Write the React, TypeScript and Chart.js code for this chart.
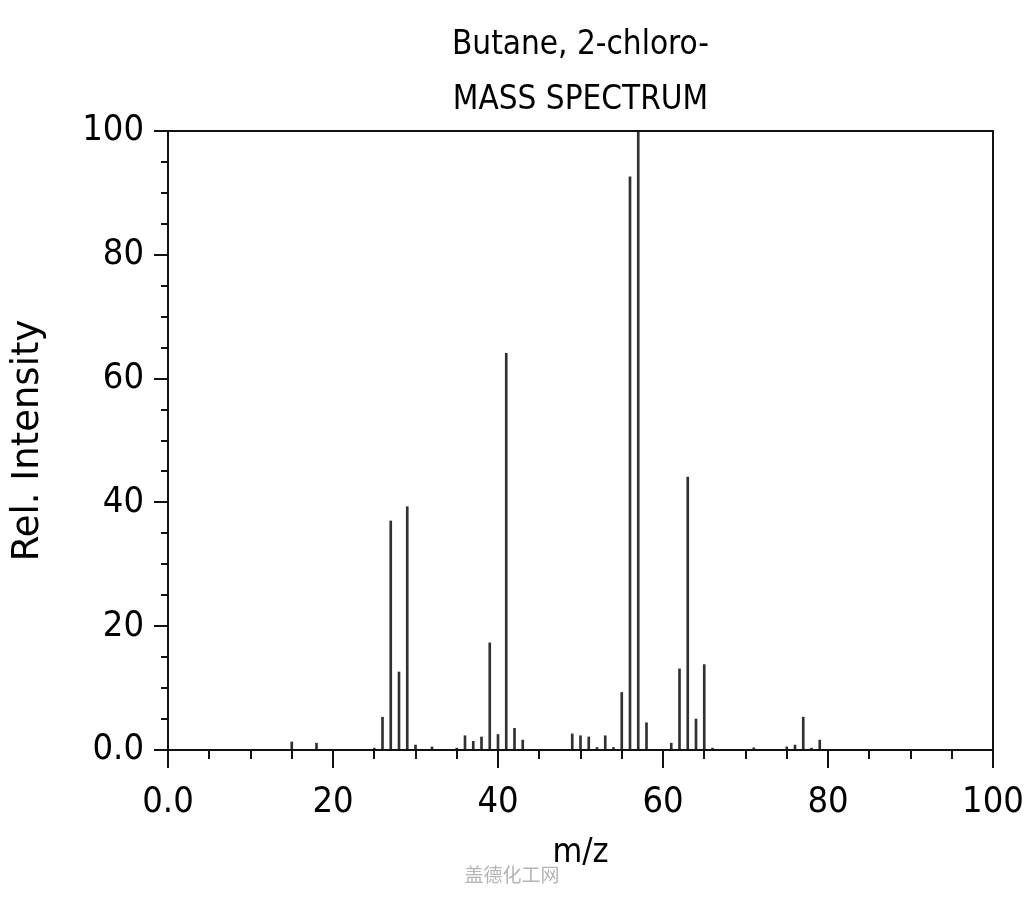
import React, { useEffect, useRef } from 'react';
import { Chart, registerables } from 'chart.js';

Chart.register(...registerables);

const TITLE_LINES = ['Butane, 2-chloro-', 'MASS SPECTRUM'];
const X_AXIS_TITLE = 'm/z';
const Y_AXIS_TITLE = 'Rel. Intensity';
const WATERMARK = '盖德化工网';

const MZ = [15, 18, 25, 26, 27, 28, 29, 30, 32, 35, 36, 37, 38, 39, 40, 41, 42, 43, 49, 50, 51, 52, 53, 54, 55, 56, 57, 58, 61, 62, 63, 64, 65, 66, 71, 75, 76, 77, 78, 79];
const INTENSITY = [1.3, 1.1, 0.3, 5.3, 37.0, 12.6, 39.3, 0.8, 0.5, 0.3, 2.3, 1.4, 2.1, 17.3, 2.5, 64.1, 3.5, 1.6, 2.6, 2.3, 2.1, 0.4, 2.3, 0.4, 9.3, 92.6, 100, 4.4, 1.1, 13.1, 44.1, 5.0, 13.8, 0.3, 0.35, 0.5, 0.8, 5.3, 0.3, 1.6];

const X_MIN = 0;
const X_MAX = 100;
const Y_MIN = 0;
const Y_MAX = 100;
const MAJOR_STEP = 20;
const MINOR_STEP = 5;

const COND = '"DejaVu Sans Condensed", "DejaVu Sans", sans-serif';
const NORMAL = '"DejaVu Sans", sans-serif';

const fmt = (v: number) => (v === 0 ? '0.0' : String(v));

const framePlugin = {
  id: 'frameTicks',
  afterDraw(chart: any) {
    const { ctx, chartArea } = chart;
    const { left, right, top, bottom } = chartArea;
    const xs = chart.scales.x;
    const ys = chart.scales.y;
    ctx.save();
    ctx.strokeStyle = '#111';
    ctx.lineWidth = 2;
    ctx.strokeRect(left, top, right - left, bottom - top);
    ctx.beginPath();
    for (let v = X_MIN; v <= X_MAX; v += MINOR_STEP) {
      const px = Math.round(xs.getPixelForValue(v));
      const len = v % MAJOR_STEP === 0 ? 18 : 9;
      ctx.moveTo(px, bottom);
      ctx.lineTo(px, bottom + len);
    }
    for (let v = Y_MIN; v <= Y_MAX; v += MINOR_STEP) {
      const py = Math.round(ys.getPixelForValue(v));
      const len = v % MAJOR_STEP === 0 ? 14 : 7;
      ctx.moveTo(left, py);
      ctx.lineTo(left - len, py);
    }
    ctx.stroke();
    ctx.fillStyle = '#b4b4b4';
    ctx.font = '19px "Noto Sans CJK SC", sans-serif';
    ctx.textAlign = 'center';
    ctx.textBaseline = 'middle';
    ctx.fillText(WATERMARK, 512, 875);
    ctx.restore();
  },
};

export default function App() {
  const ref = useRef<HTMLCanvasElement | null>(null);
  useEffect(() => {
    document.body.style.margin = '0';
    const canvas = ref.current;
    if (!canvas) return;
    const chart = new Chart(canvas, {
      type: 'bar',
      data: {
        datasets: [
          {
            data: MZ.map((m, i) => ({ x: m, y: INTENSITY[i] })),
            backgroundColor: '#303030',
            borderWidth: 0,
            barThickness: 2,
          },
        ],
      },
      options: {
        responsive: false,
        animation: false,
        devicePixelRatio: 1,
        layout: { padding: { left: 0, right: 31, top: 0, bottom: 0 } },
        plugins: {
          legend: { display: false },
          tooltip: { enabled: false },
          title: {
            display: true,
            text: TITLE_LINES,
            fullSize: false,
            color: '#000',
            font: { family: COND, size: 33, weight: 'normal', lineHeight: '55px' },
            padding: { top: 17.5, bottom: 3.5 },
          },
        },
        scales: {
          x: {
            type: 'linear',
            min: X_MIN,
            max: X_MAX,
            offset: false,
            grid: { display: false, drawTicks: false },
            border: { display: false },
            ticks: {
              stepSize: MAJOR_STEP,
              autoSkip: false,
              maxRotation: 0,
              padding: 31,
              color: '#000',
              font: { family: COND, size: 36, lineHeight: 1.2 },
              callback: (v: any) => fmt(Number(v)),
            },
            title: {
              display: true,
              text: X_AXIS_TITLE,
              color: '#000',
              font: { family: COND, size: 34, lineHeight: 1.2 },
              padding: { top: 0, bottom: 26.6 },
            },
            afterFit: (s: any) => {
              s.height = 150;
              s.paddingLeft = 0;
              s.paddingRight = 0;
            },
          },
          y: {
            min: Y_MIN,
            max: Y_MAX,
            grid: { display: false, drawTicks: false },
            border: { display: false },
            ticks: {
              stepSize: MAJOR_STEP,
              autoSkip: false,
              padding: 24,
              color: '#000',
              font: { family: COND, size: 36, lineHeight: 1.2 },
              callback: (v: any) => fmt(Number(v)),
            },
            title: {
              display: true,
              text: Y_AXIS_TITLE,
              color: '#000',
              font: { family: NORMAL, size: 37, lineHeight: 1.2 },
              padding: { top: 6, bottom: 0 },
            },
            afterFit: (s: any) => {
              s.width = 168;
            },
          },
        },
      },
      plugins: [framePlugin],
    } as any);
    return () => chart.destroy();
  }, []);
  return (
    <div style={{ width: 1024, height: 900 }}>
      <canvas ref={ref} width={1024} height={900} style={{ display: 'block' }} />
    </div>
  );
}
